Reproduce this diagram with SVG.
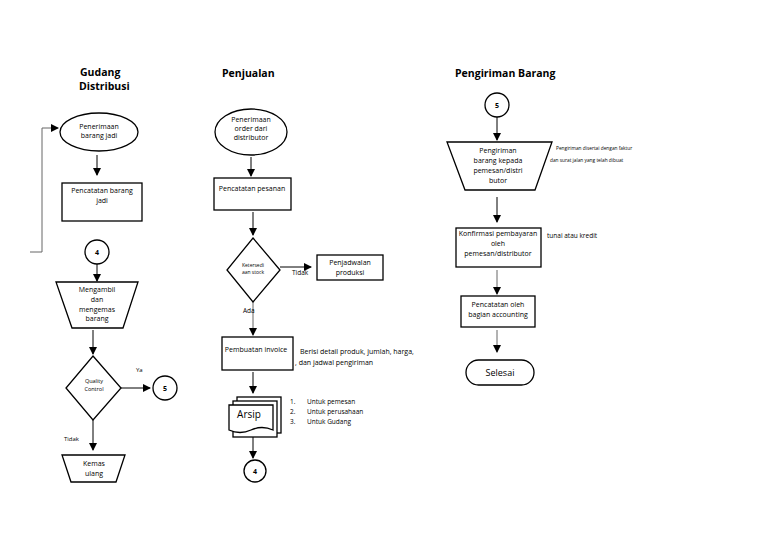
<svg xmlns="http://www.w3.org/2000/svg" width="768" height="543" viewBox="0 0 768 543">
<style>
.s{fill:#fff;stroke:#000;stroke-width:1.3}
.t{font-family:"Open Sans","Liberation Sans",sans-serif;font-size:7px;fill:#000;text-anchor:middle}
.l{font-family:"Open Sans","Liberation Sans",sans-serif;font-size:7px;fill:#000}
.h{font-family:"Open Sans","Liberation Sans",sans-serif;font-size:10.5px;font-weight:bold;fill:#000}
.c{stroke:#000;stroke-width:1;fill:none;marker-end:url(#a)}
.g{stroke:#666}
</style>
<defs><marker id="a" markerWidth="8" markerHeight="8" refX="7" refY="4" orient="auto" markerUnits="userSpaceOnUse"><path d="M0,0 L8,4 L0,8 z" fill="#000"/></marker></defs>
<rect width="768" height="543" fill="#fff"/>
<text class="h" x="80" y="76">Gudang</text>
<text class="h" x="79" y="90">Distribusi</text>
<text class="h" x="222" y="77">Penjualan</text>
<text class="h" x="455" y="77">Pengiriman Barang</text>
<g id="connectors">
<path class="c g" d="M30,252 H42 V128 H58"/>
<path class="c" d="M97,155 V175"/>
<path class="c" d="M97,264 V281"/>
<path class="c" d="M93,330 V354"/>
<path class="c" d="M121,388 H150"/>
<path class="c" d="M93,420 V450"/>
<path class="c" d="M251,157 V176"/>
<path class="c" d="M253,212 V235"/>
<path class="c" d="M280,267 H311"/>
<path class="c g" d="M253,302 V335"/>
<path class="c" d="M253,372 V393"/>
<path class="c" d="M253,437 V458"/>
<path class="c" d="M497,117 V140"/>
<path class="c" d="M497,197 V222"/>
<path class="c g" d="M497,270 V294"/>
<path class="c g" d="M497,330 V352"/>
</g>
<g id="n1"><ellipse class="s" cx="99" cy="132" rx="39" ry="19"/><text class="t" x="99" y="129">Penerimaan</text><text class="t" x="99" y="138">barang jadi</text></g>
<g id="n2"><rect class="s" x="62" y="183" width="80" height="38"/><text class="t" x="102" y="193">Pencatatan barang</text><text class="t" x="102" y="203">jadi</text></g>
<g id="n3"><circle class="s" cx="97" cy="252" r="12"/><text class="t" x="97" y="255" font-weight="bold">4</text></g>
<g id="n4"><path class="s" d="M56,282 H138 L123,328 H72 Z"/><text class="t" x="97" y="292">Mengambil</text><text class="t" x="97" y="302">dan</text><text class="t" x="97" y="312">mengemas</text><text class="t" x="97" y="321">barang</text></g>
<g id="n5"><path class="s" d="M93,356 L121,388 L93,420 L66,388 Z"/><text class="t" x="94" y="383" style="font-size:5.5px">Quality</text><text class="t" x="94" y="391" style="font-size:5.5px">Control</text></g>
<text class="l" x="136" y="372" style="font-size:6px">Ya</text>
<g id="n6"><circle class="s" cx="165" cy="388" r="12"/><text class="t" x="165" y="391" font-weight="bold">5</text></g>
<text class="l" x="64" y="441" style="font-size:6px">Tidak</text>
<g id="n7"><path class="s" d="M62,455 H125 L116,482 H71 Z"/><text class="t" x="94" y="466">Kemas</text><text class="t" x="94" y="476">ulang</text></g>
<g id="m1"><ellipse class="s" cx="251" cy="132" rx="36" ry="23"/><text class="t" x="251" y="122">Penerimaan</text><text class="t" x="251" y="131">order dari</text><text class="t" x="251" y="140">distributor</text></g>
<g id="m2"><rect class="s" x="214" y="178" width="77" height="32"/><text class="t" x="252" y="191">Pencatatan pesanan</text></g>
<g id="m3"><path class="s" d="M253,238 L280,270 L253,302 L227,270 Z"/><text class="t" x="253" y="267" style="font-size:5px">Ketersedi</text><text class="t" x="253" y="274" style="font-size:5px">aan stock</text></g>
<text class="l" x="292" y="275" style="font-size:6.5px">Tidak</text>
<g id="m4"><rect class="s" x="317" y="255" width="66" height="25"/><text class="t" x="350" y="265">Penjadwalan</text><text class="t" x="350" y="275">produksi</text></g>
<text class="l" x="243" y="313" style="font-size:6.5px">Ada</text>
<g id="m5"><rect class="s" x="222" y="337" width="71" height="33"/><text class="t" x="256" y="352">Pembuatan invoice</text></g>
<text class="l" x="300" y="354">Berisi detail produk, jumlah, harga,</text>
<text class="l" x="295" y="365">, dan jadwal pengiriman</text>
<g id="m6"><rect class="s" x="237" y="397" width="44" height="36"/><rect class="s" x="233" y="401" width="44" height="36"/><path class="s" d="M229,405 H273 V430 Q262,425 251,430 Q240,435 229,430 Z"/><text class="t" x="249" y="418" style="font-size:10px">Arsip</text></g>
<text class="l" x="290" y="404" style="font-size:6.5px">1.</text><text class="l" x="307" y="404" style="font-size:6.5px">Untuk pemesan</text>
<text class="l" x="290" y="414" style="font-size:6.5px">2.</text><text class="l" x="307" y="414" style="font-size:6.5px">Untuk perusahaan</text>
<text class="l" x="290" y="424" style="font-size:6.5px">3.</text><text class="l" x="307" y="424" style="font-size:6.5px">Untuk Gudang</text>
<g id="m7"><circle class="s" cx="255" cy="471" r="11"/><text class="t" x="255" y="474" font-weight="bold">4</text></g>
<g id="r1"><circle class="s" cx="497" cy="105" r="12"/><text class="t" x="497" y="108" font-weight="bold">5</text></g>
<g id="r2"><path class="s" d="M447,142 H552 L535,190 H465 Z"/><text class="t" x="498" y="153">Pengiriman</text><text class="t" x="498" y="163">barang kepada</text><text class="t" x="498" y="173">pemesan/distri</text><text class="t" x="498" y="183">butor</text></g>
<text class="l" x="556" y="150" style="font-size:4.8px">Pengiriman disertai dengan faktur</text>
<text class="l" x="550" y="162" style="font-size:4.8px">dan surat jalan yang telah dibuat</text>
<g id="r3"><rect class="s" x="456" y="228" width="85" height="39"/><text class="t" x="498" y="236">Konfirmasi pembayaran</text><text class="t" x="498" y="246">oleh</text><text class="t" x="498" y="256">pemesan/distributor</text></g>
<text class="l" x="547" y="238" style="font-size:6.5px">tunai atau kredit</text>
<g id="r4"><rect class="s" x="461" y="296" width="74" height="31"/><text class="t" x="498" y="307">Pencatatan oleh</text><text class="t" x="498" y="317">bagian accounting</text></g>
<g id="r5"><rect class="s" x="466" y="360" width="68" height="25" rx="12.5"/><text class="t" x="500" y="376" style="font-size:9px">Selesai</text></g>
</svg>
